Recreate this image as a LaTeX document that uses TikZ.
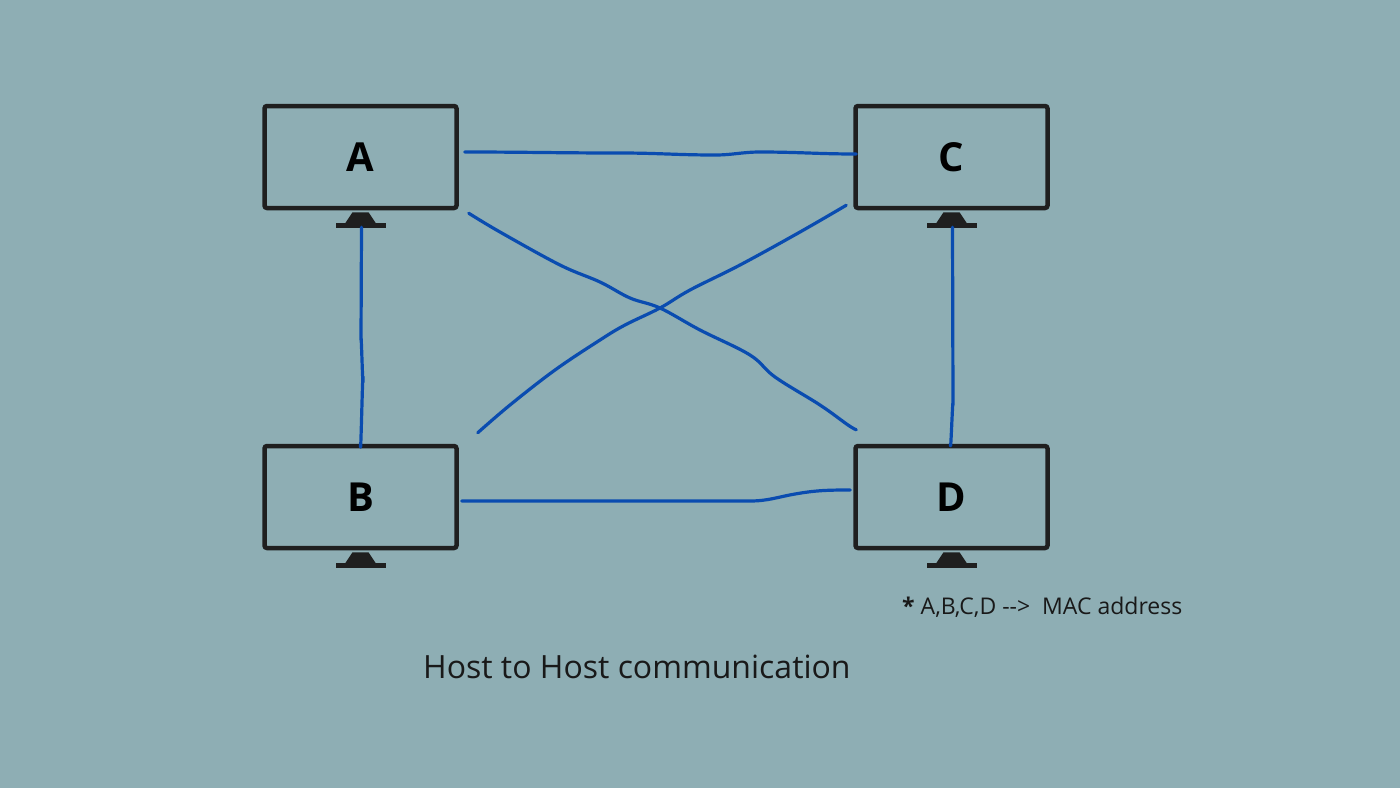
\documentclass[tikz,border=0pt]{standalone}
\usepackage{fontspec}
\setmainfont{Open Sans}
\usetikzlibrary{calc}
\definecolor{bg}{RGB}{142,174,180}
\definecolor{wireblue}{RGB}{10,76,176}
\begin{document}
\begin{tikzpicture}[x=1pt,y=-1pt,
  scr/.style={draw=black!88,line width=4.5pt,rounded corners=2.5pt,minimum width=192pt,minimum height=102pt,inner sep=0pt,font=\bfseries\fontsize{40}{44}\selectfont},
  wire/.style={draw=wireblue,line width=3.2pt,line cap=round,line join=round},
  lbl/.style={inner sep=0pt,text=black!90}]
\fill[bg] (0,0) rectangle (1400,788);
\useasboundingbox (0,0) rectangle (1400,788);
\newcommand{\monstand}[1]{%
  \fill[black!88] ($(#1.south)+(-8,2)$) -- ($(#1.south)+(8,2)$) -- ($(#1.south)+(16,14)$) -- ($(#1.south)+(-16,14)$) -- cycle;
  \fill[black!88] ($(#1.south)+(-25,13)$) rectangle ($(#1.south)+(25,18)$);}
\node[scr] (A) at (360.5,157) {A};
\node[scr] (C) at (951.5,157) {C};
\node[scr] (B) at (360.5,497) {B};
\node[scr] (D) at (951.5,497) {D};
\monstand{A}\monstand{B}\monstand{C}\monstand{D}
% wires
\draw[wire] ($(A.east)+(6,-5)$) to[out=0,in=180] (620,153) to[out=0,in=180] (715,155) to[out=0,in=180] (760,152) to[out=0,in=180] ($(C.west)+(3,-3)$);
\draw[wire] ($(B.east)+(3,4)$) -- (750,501) to[out=0,in=190] (795,494) to[out=10,in=180] ($(D.west)+(-3,-7)$);
\draw[wire] ($(A.south)+(1,17)$) -- (361,340) to[out=90,in=-90] (363,380) to[out=90,in=-90] (B.north);
\draw[wire] ($(C.south)+(1,17)$) -- (953,405) to[out=90,in=-90] ($(D.north)+(-1,0)$);
\draw[wire] plot[smooth,tension=0.6] coordinates {($(A.south east)+(10,3)$) (500,232) (560,265) (600,282) (630,298) (660,308) (700,330) (750,355) (775,377) (820,405) (848,425) ($(D.north west)+(3,-14)$)};
\draw[wire] plot[smooth,tension=0.6] coordinates {($(B.north east)+(19,-11)$) (510,405) (555,370) (600,340) (625,325) (660,308) (690,290) (740,265) (800,232) ($(C.south west)+(-7,-5)$)};
\node[lbl,anchor=west,font=\fontsize{23}{27}\selectfont] (note) at (902,607) {\textbf{*} A,B,C,D -{}->~ MAC address};
\node[lbl,anchor=west,font=\fontsize{32}{36}\selectfont] (title) at (423,667) {Host to Host communication};
\end{tikzpicture}
\end{document}
